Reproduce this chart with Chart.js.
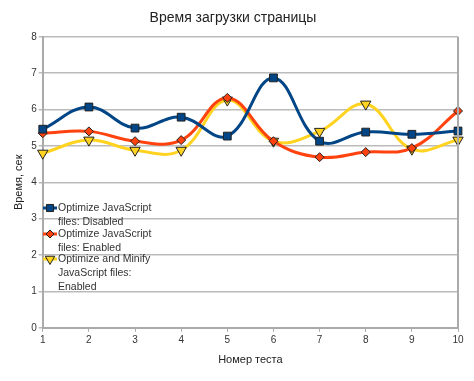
<!DOCTYPE html>
<html><head><meta charset="utf-8">
<script src="https://cdn.jsdelivr.net/npm/chart.js@4"></script>
<style>html,body{margin:0;padding:0;background:#fff}#wrap{width:474px;height:381px}</style>
</head><body><div id="wrap"><canvas id="c"></canvas></div>
<script>
const categories = ['1','2','3','4','5','6','7','8','9','10'];
const seriesNames = [['Optimize JavaScript','files: Disabled'],['Optimize JavaScript','files: Enabled'],['Optimize and Minify','JavaScript files:','Enabled']];
const disabled = [5.46, 6.07, 5.49, 5.79, 5.27, 6.87, 5.13, 5.38, 5.32, 5.41];
const enabled = [5.35, 5.40, 5.13, 5.16, 6.32, 5.13, 4.69, 4.83, 4.94, 5.96];
const minified = [4.80, 5.16, 4.88, 4.88, 6.26, 5.13, 5.40, 6.15, 4.91, 5.16];
const yTicks = [0,1,2,3,4,5,6,7,8];

const FONT = "'Liberation Sans', Arial, sans-serif";
const legendPlugin = {
  id: 'inlegend',
  afterDraw(chart) {
    const ctx = chart.ctx;
    const rows = [208, 234, 259];
    ctx.save();
    chart.data.datasets.forEach((ds, i) => {
      const y = rows[i];
      ctx.strokeStyle = ds.borderColor; ctx.lineWidth = 3;
      ctx.beginPath(); ctx.moveTo(43, y); ctx.lineTo(57, y); ctx.stroke();
      ctx.fillStyle = ds.pointBackgroundColor; ctx.strokeStyle = '#222'; ctx.lineWidth = 1;
      Chart.helpers.drawPoint(ctx, {pointStyle: ds.pointStyle, radius: ds.pointRadius - 0.5, rotation: ds.pointRotation || 0, borderWidth: 1}, 50, y);
      ctx.fillStyle = '#333'; ctx.font = "10.5px " + FONT; ctx.textBaseline = 'middle';
      seriesNames[i].forEach((t, k) => ctx.fillText(t, 58, y + k * 14));
    });
    ctx.restore();
  }
};
function mk(label, data, color, style, rot, r) {
  return {label, data, borderColor: color, backgroundColor: color, pointBackgroundColor: color,
    pointBorderColor: '#222', pointBorderWidth: 1, pointStyle: style, pointRotation: rot, pointRadius: r,
    borderWidth: 3, tension: 0.4, cubicInterpolationMode: 'default', fill: false};
}
new Chart(document.getElementById('c'), {
  type: 'line',
  data: { labels: categories, datasets: [
    mk(seriesNames[0].join(' '), disabled, '#004586', 'rect', 0, 5.5),
    mk(seriesNames[1].join(' '), enabled, '#ff420e', 'rectRot', 0, 4.5),
    mk(seriesNames[2].join(' '), minified, '#ffd320', 'triangle', 180, 6)
  ]},
  options: {
    responsive: true, maintainAspectRatio: false, animation: false,
    layout: {padding: {left: 8, right: 16, top: 4, bottom: 10}},
    plugins: {
      legend: {display: false}, tooltip: {enabled: false},
      title: {display: true, text: 'Время загрузки страницы', color: '#222', font: {family: FONT, size: 14, weight: 'normal'}, padding: {top: 6, bottom: 10}}
    },
    scales: {
      x: {offset: false, grid: {display: true, drawOnChartArea: false, color: '#aaa', tickLength: 4},
        border: {color: '#aaa', width: 2},
        ticks: {color: '#333', font: {family: FONT, size: 10}, padding: 2, maxRotation: 0},
        title: {display: true, text: 'Номер теста', color: '#222', font: {family: FONT, size: 11}, padding: {top: 6}}},
      y: {min: 0, max: 8, afterBuildTicks: s => { s.ticks = yTicks.map(v => ({value: v})); },
        grid: {color: '#bbb', lineWidth: 1.5, tickLength: 4},
        border: {color: '#aaa', width: 2},
        ticks: {color: '#333', font: {family: FONT, size: 10}, padding: 2},
        title: {display: true, text: 'Время, сек', color: '#222', font: {family: FONT, size: 11}, padding: {bottom: 4}}}
    }
  },
  plugins: [legendPlugin, {
    id: 'rightBorder',
    afterDraw(chart) {
      const a = chart.chartArea, ctx = chart.ctx;
      ctx.save(); ctx.strokeStyle = '#aaa'; ctx.lineWidth = 2;
      ctx.beginPath(); ctx.moveTo(a.right, a.top); ctx.lineTo(a.right, a.bottom); ctx.stroke(); ctx.restore();
    }
  }]
});
</script></body></html>
